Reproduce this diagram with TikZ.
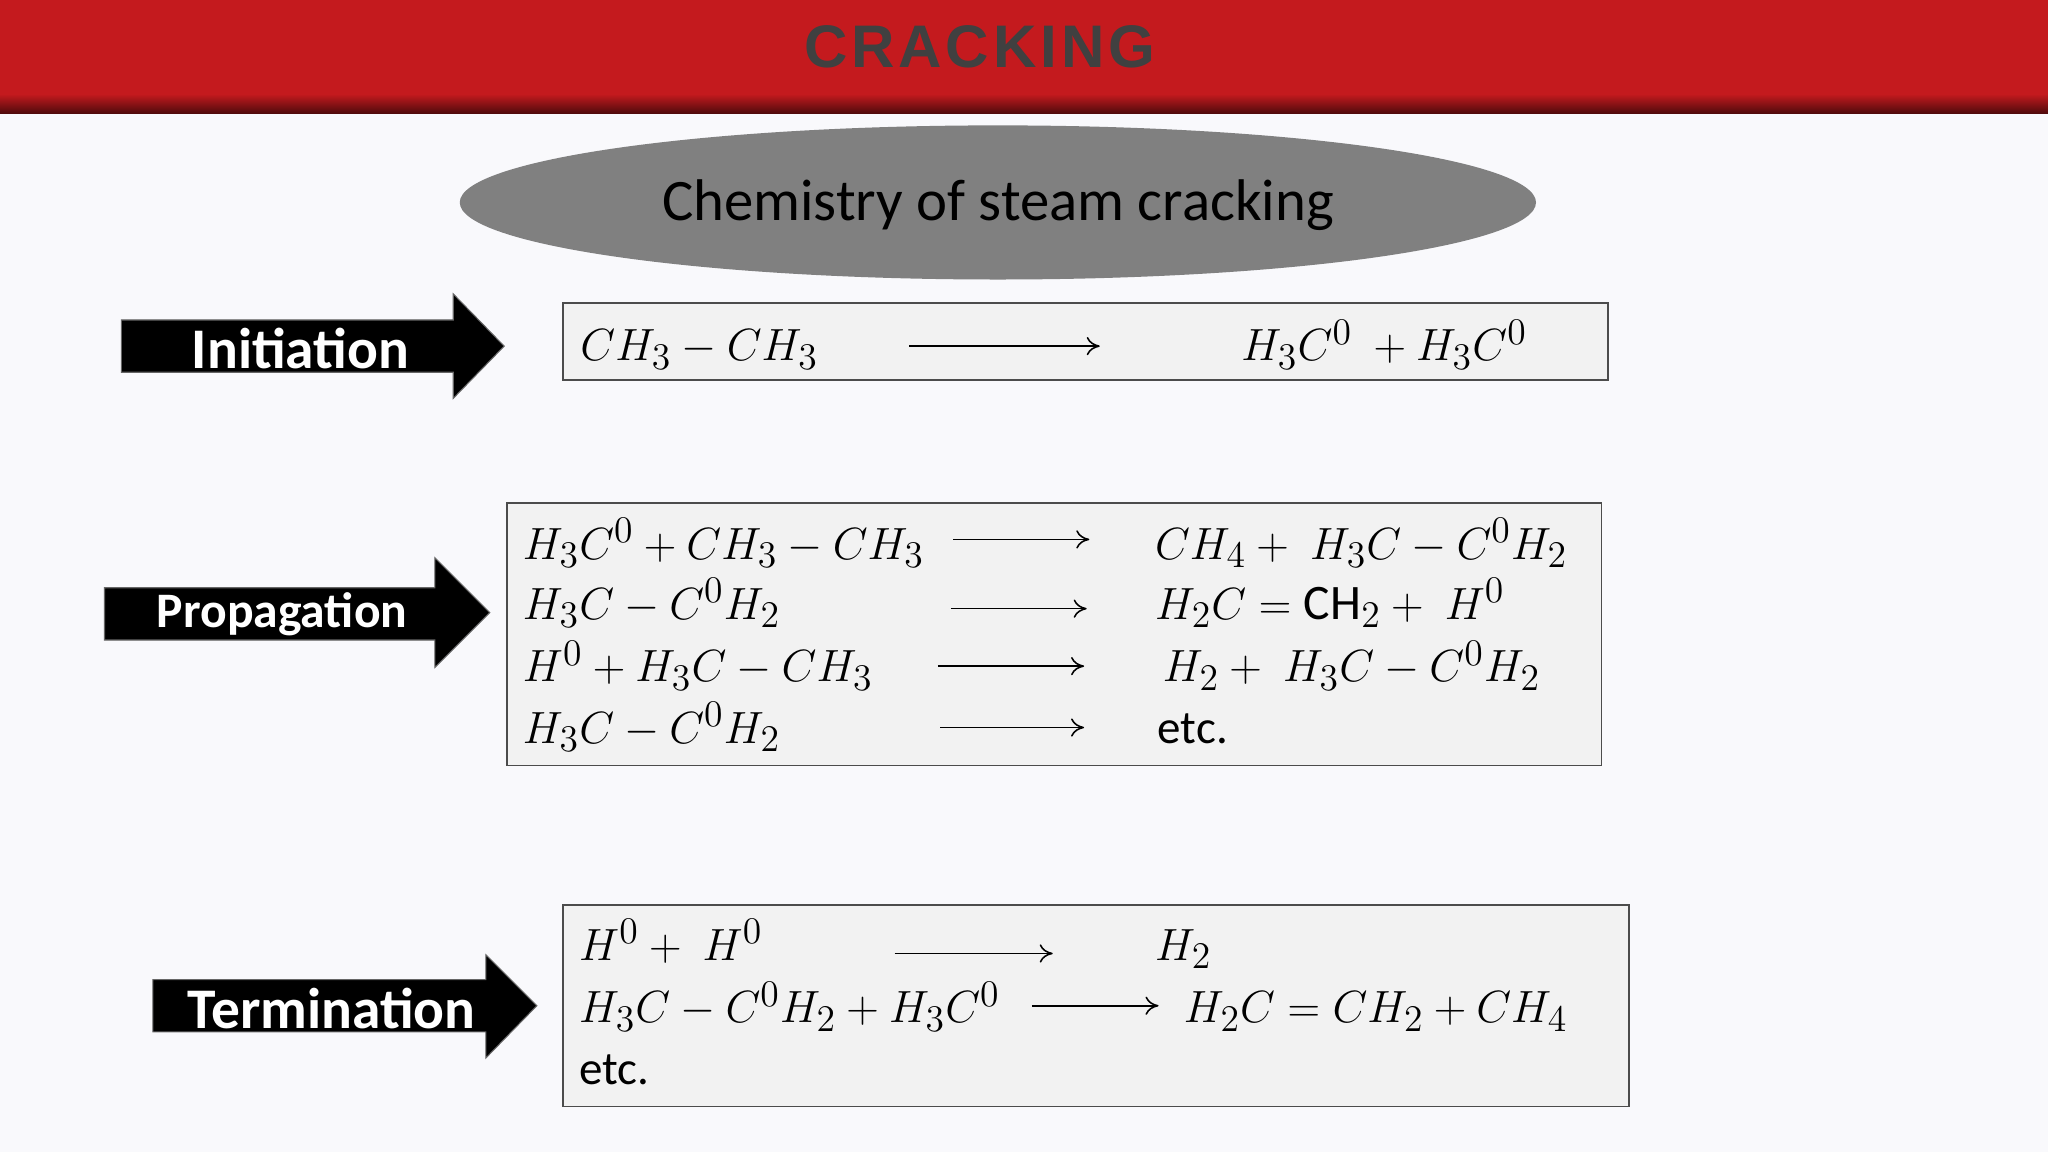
\documentclass[tikz,border=0pt]{standalone}
\usepackage{fontspec}
\setmainfont{Carlito}
\newfontfamily\titlefont{Liberation Sans}
\usetikzlibrary{shapes.geometric,arrows.meta,shadings}
\definecolor{bandred}{HTML}{C41A1E}
\definecolor{bg}{HTML}{F9F9FC}
\definecolor{boxfill}{HTML}{F2F2F2}
\tikzset{
 eq/.style={anchor=base west,inner sep=0,font=\fontsize{19}{21}\selectfont},
 rx/.style={-{To[length=5pt,width=7pt]},line width=0.6pt},
 ebox/.style={draw=black!70,fill=boxfill,line width=0.6pt},
 bigarrow/.style={fill=black,draw=black!60},
 lab/.style={text=white,font=\bfseries\fontsize{22}{24}\selectfont,inner sep=0}
}
\begin{document}
\begin{tikzpicture}[x=0.5pt,y=-0.5pt]
\useasboundingbox (0,0) rectangle (1568,882);
\fill[bg] (0,0) rectangle (1568,882);
\fill[bandred] (0,0) rectangle (1568,78);
\shade[top color=bandred,bottom color=black!60!bandred] (0,72) rectangle (1568,87);
\node[text=black!75,font=\titlefont\bfseries\fontsize{23}{25}\selectfont] (title) at (750,36) {C\kern1.5pt R\kern1.5pt A\kern1.5pt C\kern1.5pt K\kern1.5pt I\kern1.5pt N\kern1.5pt G};
\node[ellipse,fill=black!50,minimum width=412pt,minimum height=59pt,inner sep=0] (ell) at (764,155) {};
\node[font=\fontsize{22.5}{24}\selectfont] (ellt) at (764,157) {Chemistry of steam cracking};
% big arrows
\fill[bigarrow] (93,245) -- (347,245) -- (347,225) -- (386,265) -- (347,305) -- (347,285) -- (93,285) -- cycle;
\node[lab] (ini) at (230,267) {Initiation};
\fill[bigarrow] (80,450) -- (333,450) -- (333,427) -- (375,469) -- (333,511) -- (333,490) -- (80,490) -- cycle;
\node[lab,font=\bfseries\fontsize{19}{21}\selectfont] (prop) at (216,470) {Propagation};
\fill[bigarrow] (117,750) -- (372,750) -- (372,731) -- (411,770) -- (372,810) -- (372,790) -- (117,790) -- cycle;
\node[lab] (term) at (254,772) {Termination};
% boxes
\draw[ebox] (431,232) rectangle (1231,291);
\draw[ebox] (388,385) rectangle (1226,586);
\draw[ebox] (431,693) rectangle (1247,847);
% initiation
\node[eq] (i1) at (444,276) {$CH_3-CH_3$};
\node[eq] (i2) at (950,276) {$H_3C^0\ +H_3C^0$};
\coordinate (ia) at (696,265); \coordinate (ib) at (842,265);
\draw[rx] (ia) -- (ib);
% propagation
\node[eq] (p1) at (400,428) {$H_3C^0+CH_3-CH_3$};
\node[eq] (p2) at (400,474) {$H_3C-C^0H_2$};
\node[eq] (p3) at (400,522) {$H^0+H_3C-CH_3$};
\node[eq] (p4) at (400,569) {$H_3C-C^0H_2$};
\node[eq] (q1) at (884,428) {$CH_4+\ H_3C-C^0H_2$};
\node[eq] (q2) at (884,474) {$H_2C=\mathrm{CH}_2+\ H^0$};
\node[eq] (q3) at (890,522) {$H_2+\ H_3C-C^0H_2$};
\node[eq,font=\fontsize{18}{20}\selectfont] (q4) at (886,569) {etc.};
\coordinate (a1) at (730,413); \coordinate (b1) at (834,413);
\coordinate (a2) at (728,466); \coordinate (b2) at (832,466);
\coordinate (a3) at (718,510); \coordinate (b3) at (830,510);
\coordinate (a4) at (720,557); \coordinate (b4) at (830,557);
\draw[rx] (a1) -- (b1); \draw[rx] (a2) -- (b2);
\draw[rx] (a3) -- (b3); \draw[rx] (a4) -- (b4);
% termination
\node[eq] (t1) at (443,735) {$H^0+\ H^0$};
\node[eq] (t2) at (443,783) {$H_3C-C^0H_2+H_3C^0$};
\node[eq,font=\fontsize{18}{20}\selectfont] (t3) at (443,830) {etc.};
\node[eq] (u1) at (884,735) {$H_2$};
\node[eq] (u2) at (906,783) {$H_2C=CH_2+CH_4$};
\coordinate (c1) at (685,730); \coordinate (d1) at (806,730);
\coordinate (c2) at (790,770); \coordinate (d2) at (887,770);
\draw[rx] (c1) -- (d1); \draw[rx] (c2) -- (d2);
\end{tikzpicture}
\end{document}
